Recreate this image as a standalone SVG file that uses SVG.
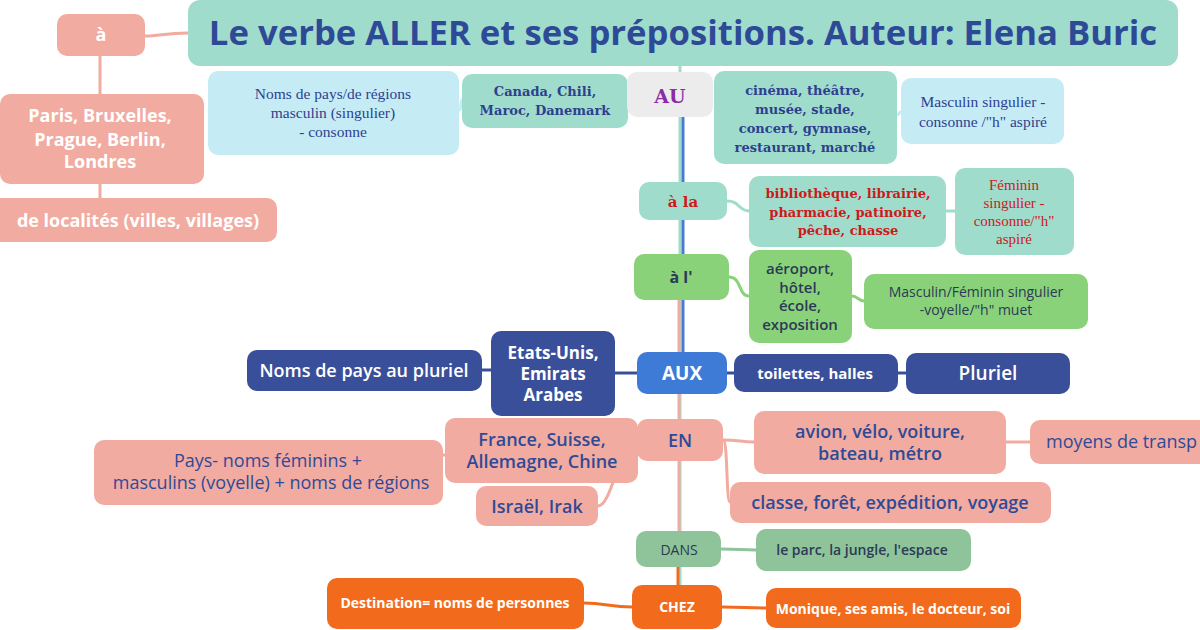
<svg xmlns="http://www.w3.org/2000/svg" width="1200" height="630" viewBox="0 0 1200 630">
<style>
.s{font-family:"Open Sans","Liberation Sans",sans-serif;text-anchor:middle}
.r{font-family:"Liberation Serif","DejaVu Serif",serif;text-anchor:middle}
.rb{font-family:"DejaVu Serif","Liberation Serif",serif;text-anchor:middle;font-weight:bold}
.b{font-weight:bold}
.sb{font-weight:600}
.teal{fill:#a0dccc}.sal{fill:#f2aba0}.lb{fill:#c5ecf5}.gr{fill:#8ad27a}.db{fill:#3a4f9a}.or{fill:#f26b1d}.dg{fill:#8fc49a}
.w{fill:#fff}.bl{fill:#2e4a97}.nv{fill:#2e3f8f}.red{fill:#cc1a1a}.dk{fill:#2b3a55}
.c{fill:none;stroke-width:3}
</style>
<rect width="1200" height="630" fill="#fff"/>
<g id="connectors">
<path class="c" d="M680 66 V600" stroke="#a0dccc" stroke-width="4"/>
<path class="c" d="M683 110 V360" stroke="#4a7ad6" stroke-width="1.5"/>
<path class="c" d="M679 260 V540" stroke="#f2aba0" stroke-width="2"/>
<path class="c" d="M678 540 V590" stroke="#f26b1d" stroke-width="3"/>
<path class="c" d="M188 33 C165 33 160 36 145 36" stroke="#f2aba0"/>
<path class="c" d="M100 56 V94" stroke="#f2aba0"/>
<path class="c" d="M100 184 V198" stroke="#f2aba0"/>
<path class="c" d="M459 110 C462 110 460 100 462 100" stroke="#c5ecf5"/>
<path class="c" d="M897 115 C899 115 899 112 901 112" stroke="#c5ecf5"/>
<path class="c" d="M727 201 C740 201 738 211 749 211" stroke="#a0dccc"/>
<path class="c" d="M946 211 H955" stroke="#a0dccc"/>
<path class="c" d="M729 277 C742 277 738 296 749 296" stroke="#8ad27a"/>
<path class="c" d="M852 296 C858 296 858 301 864 301" stroke="#8ad27a"/>
<path class="c" d="M615 373 H637" stroke="#3a4f9a"/>
<path class="c" d="M482 370 H491" stroke="#3a4f9a"/>
<path class="c" d="M727 373 H734" stroke="#3a4f9a"/>
<path class="c" d="M898 373 H906" stroke="#3a4f9a"/>
<path class="c" d="M445 455 H443" stroke="#f2aba0"/>
<path class="c" d="M637 440 C620 440 612 506 598 506" stroke="#f2aba0"/>
<path class="c" d="M723 440 C740 440 740 442 754 442" stroke="#f2aba0"/>
<path class="c" d="M723 440 C728 440 726 502 730 502" stroke="#f2aba0"/>
<path class="c" d="M1006 442 H1030" stroke="#f2aba0"/>
<path class="c" d="M721 549 C740 549 740 550 756 550" stroke="#8fc49a"/>
<path class="c" d="M584 603 C605 603 610 607 632 607" stroke="#f26b1d"/>
<path class="c" d="M722 607 C745 607 745 608 766 608" stroke="#f26b1d"/>
</g>
<g id="title"><rect class="teal" x="188" y="0" width="990" height="66" rx="12"/><text class="s b bl" x="683" y="45" font-size="34.7">Le verbe ALLER et ses prépositions. Auteur: Elena Buric</text></g>
<g id="a"><rect class="sal" x="57" y="14" width="88" height="42" rx="10"/><text class="s b w" x="101" y="41" font-size="18">à</text></g>
<g id="paris"><rect class="sal" x="0" y="94" width="204" height="90" rx="10"/><text class="s b w" font-size="18"><tspan x="100" y="122">Paris, Bruxelles,</tspan><tspan x="100" y="146">Prague, Berlin,</tspan><tspan x="100" y="168">Londres</tspan></text></g>
<g id="localites"><rect class="sal" x="-12" y="198" width="289" height="44" rx="10"/><text class="s b w" x="138" y="227" font-size="18">de localités (villes, villages)</text></g>
<g id="nomspays"><rect class="lb" x="208" y="71" width="251" height="84" rx="10"/><text class="r nv" font-size="15.5"><tspan x="333" y="99">Noms de pays/de régions</tspan><tspan x="333" y="118">masculin (singulier)</tspan><tspan x="333" y="137">- consonne</tspan></text></g>
<g id="canada"><rect class="teal" x="462" y="74" width="166" height="54" rx="10"/><text class="rb nv" font-size="13"><tspan x="545" y="96">Canada, Chili,</tspan><tspan x="545" y="115">Maroc, Danemark</tspan></text></g>
<g id="au"><rect fill="#ececec" x="627" y="72" width="86" height="45" rx="10"/><text class="rb" fill="#8a2ba8" x="670" y="103" font-size="19">AU</text></g>
<g id="cinema"><rect class="teal" x="714" y="71" width="183" height="93" rx="10"/><text class="rb nv" font-size="13"><tspan x="805" y="95">cinéma, théâtre,</tspan><tspan x="805" y="114">musée, stade,</tspan><tspan x="805" y="133">concert, gymnase,</tspan><tspan x="805" y="152">restaurant, marché</tspan></text></g>
<g id="mascsing"><rect class="lb" x="901" y="78" width="163" height="66" rx="10"/><text class="r nv" font-size="15.5"><tspan x="983" y="107">Masculin singulier -</tspan><tspan x="983" y="127">consonne /"h" aspiré</tspan></text></g>
<g id="ala"><rect class="teal" x="639" y="182" width="88" height="38" rx="10"/><text class="rb red" x="683" y="207" font-size="15">à la</text></g>
<g id="biblio"><rect class="teal" x="749" y="176" width="197" height="71" rx="10"/><text class="rb red" font-size="13"><tspan x="848" y="198">bibliothèque, librairie,</tspan><tspan x="848" y="217">pharmacie, patinoire,</tspan><tspan x="848" y="235">pêche, chasse</tspan></text></g>
<g id="feminin"><rect class="teal" x="955" y="168" width="119" height="87" rx="10"/><text class="r red" font-size="15"><tspan x="1014" y="190">Féminin</tspan><tspan x="1014" y="208">singulier -</tspan><tspan x="1014" y="226">consonne/"h"</tspan><tspan x="1014" y="244">aspiré</tspan></text></g>
<g id="al"><rect class="gr" x="634" y="254" width="95" height="46" rx="10"/><text class="s b dk" x="681" y="283" font-size="16">à l'</text></g>
<g id="aeroport"><rect class="gr" x="749" y="250" width="103" height="93" rx="10"/><text class="s sb dk" font-size="15"><tspan x="800" y="274">aéroport,</tspan><tspan x="800" y="293">hôtel,</tspan><tspan x="800" y="311">école,</tspan><tspan x="800" y="330">exposition</tspan></text></g>
<g id="mascfem"><rect class="gr" x="864" y="274" width="224" height="55" rx="10"/><text class="s dk" font-size="14"><tspan x="976" y="297">Masculin/Féminin singulier</tspan><tspan x="976" y="315">-voyelle/"h" muet</tspan></text></g>
<g id="etats"><rect class="db" x="491" y="331" width="124" height="85" rx="10"/><text class="s b w" font-size="17"><tspan x="553" y="359">Etats-Unis,</tspan><tspan x="553" y="380">Emirats</tspan><tspan x="553" y="401">Arabes</tspan></text></g>
<g id="nomspluriel"><rect class="db" x="247" y="350" width="235" height="41" rx="10"/><text class="s sb w" x="364" y="377" font-size="18">Noms de pays au pluriel</text></g>
<g id="aux"><rect fill="#3d7bd6" x="637" y="352" width="90" height="42" rx="10"/><text class="s b w" x="682" y="380" font-size="19">AUX</text></g>
<g id="toilettes"><rect class="db" x="734" y="354" width="164" height="38" rx="10"/><text class="s b w" x="815" y="379" font-size="15">toilettes, halles</text></g>
<g id="pluriel"><rect class="db" x="906" y="353" width="164" height="41" rx="10"/><text class="s sb w" x="988" y="380" font-size="19">Pluriel</text></g>
<g id="en"><rect class="sal" x="637" y="419" width="86" height="42" rx="10"/><text class="s sb bl" x="680" y="447" font-size="18">EN</text></g>
<g id="france"><rect class="sal" x="445" y="418" width="193" height="65" rx="10"/><text class="s sb bl" font-size="18"><tspan x="542" y="446">France, Suisse,</tspan><tspan x="542" y="468">Allemagne, Chine</tspan></text></g>
<g id="paysfem"><rect class="sal" x="94" y="440" width="349" height="65" rx="10"/><text class="s bl" font-size="18"><tspan x="268" y="467">Pays- noms féminins +</tspan><tspan x="271" y="489">masculins (voyelle) + noms de régions</tspan></text></g>
<g id="israel"><rect class="sal" x="476" y="486" width="122" height="40" rx="10"/><text class="s sb bl" x="537" y="513" font-size="18">Israël, Irak</text></g>
<g id="avion"><rect class="sal" x="754" y="411" width="252" height="63" rx="10"/><text class="s sb bl" font-size="18"><tspan x="880" y="438">avion, vélo, voiture,</tspan><tspan x="880" y="460">bateau, métro</tspan></text></g>
<g id="moyens"><rect class="sal" x="1030" y="420" width="200" height="44" rx="10"/><text class="s bl" x="1046" y="448" font-size="18" style="text-anchor:start">moyens de transp</text></g>
<g id="classe"><rect class="sal" x="730" y="482" width="321" height="41" rx="10"/><text class="s sb bl" x="890" y="509" font-size="18">classe, forêt, expédition, voyage</text></g>
<g id="dans"><rect class="dg" x="636" y="531" width="85" height="36" rx="10"/><text class="s dk" x="679" y="555" font-size="14">DANS</text></g>
<g id="parc"><rect class="dg" x="756" y="529" width="215" height="42" rx="10"/><text class="s sb dk" x="862" y="555" font-size="14">le parc, la jungle, l'espace</text></g>
<g id="chez"><rect class="or" x="632" y="585" width="90" height="44" rx="10"/><text class="s b w" x="677" y="612" font-size="14">CHEZ</text></g>
<g id="destination"><rect class="or" x="327" y="578" width="257" height="51" rx="10"/><text class="s b w" x="455" y="608" font-size="14">Destination= noms de personnes</text></g>
<g id="monique"><rect class="or" x="766" y="588" width="255" height="40" rx="10"/><text class="s b w" x="893" y="614" font-size="14">Monique, ses amis, le docteur, soi</text></g>
</svg>
